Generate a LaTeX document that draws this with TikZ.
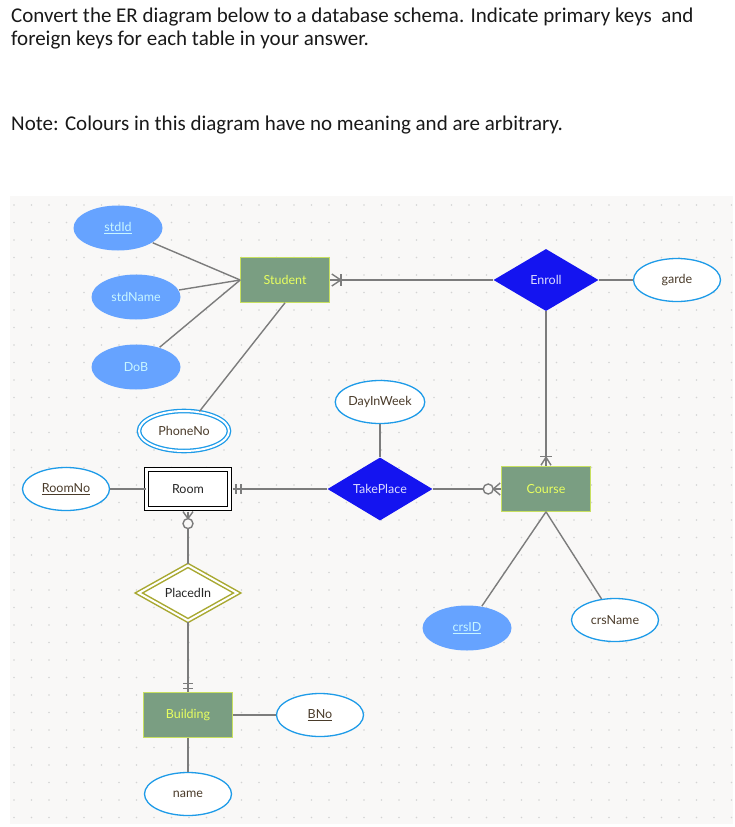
\documentclass[tikz,border=0pt]{standalone}
\usepackage{fontspec}
\setmainfont{Carlito}
\newfontfamily\diagfont{Lato}
\usetikzlibrary{shapes.geometric}

\definecolor{bgpaper}{HTML}{F9F8F7}
\definecolor{griddot}{HTML}{D4D4D4}
\definecolor{attrblue}{HTML}{66A3FF}
\definecolor{attrline}{HTML}{1E9BE8}
\definecolor{attrtext}{HTML}{C8F6FF}
\definecolor{browntext}{HTML}{4A3B2A}
\definecolor{entgreen}{HTML}{7A9E82}
\definecolor{enttext}{HTML}{E8FF60}
\definecolor{entline}{HTML}{C8E060}
\definecolor{relblue}{HTML}{1414F0}
\definecolor{reltext}{HTML}{DCDCFF}
\definecolor{olivegreen}{HTML}{A8A830}
\definecolor{connector}{HTML}{7C7C7C}

\tikzset{
  diagtext/.style={font=\diagfont\fontsize{12.5}{14}\selectfont},
  attr/.style={ellipse, diagtext, draw=attrline, line width=1.3pt, fill=white,
    minimum width=87pt, minimum height=43pt, inner sep=0pt, text=browntext},
  filledattr/.style={attr, draw=none, fill=attrblue, text=attrtext,
    minimum width=89pt, minimum height=45pt},
  entity/.style={rectangle, diagtext, draw=entline, line width=0.6pt, fill=entgreen,
    minimum width=89pt, minimum height=45pt, text=enttext},
  weakentity/.style={rectangle, diagtext, draw=black, line width=1.2pt, double=white,
    double distance=2.5pt, fill=white, minimum width=83pt, minimum height=39pt, text=black!85},
  relation/.style={diamond, diagtext, fill=relblue, minimum width=105pt,
    minimum height=62pt, inner sep=0pt, text=reltext},
  weakrel/.style={diamond, diagtext, draw=olivegreen, line width=1.5pt, double=white,
    double distance=2pt, fill=white, minimum width=99pt, minimum height=55pt,
    inner sep=0pt, text=black!85},
  conn/.style={draw=connector, line width=1.4pt},
  question/.style={anchor=base west, inner sep=0pt, text=black!90,
    font=\fontsize{21}{22}\selectfont},
}

\begin{document}
\begin{tikzpicture}[x=1pt,y=-1pt]
  \useasboundingbox (0,0) rectangle (734,827);
  \fill[white] (0,0) rectangle (734,827);

  % question text
  \node[question] (q1) at (11,23) {Convert the ER diagram below to a database schema. Indicate primary keys\ \ and};
  \node[question] (q2) at (11,45) {foreign keys for each table in your answer.};
  \node[question] (note) at (11,130) {Note: Colours in this diagram have no meaning and are arbitrary.};

  % canvas with dot grid
  \fill[bgpaper] (10,196) rectangle (733,824);
  \foreach \i in {0,...,41} {
      \foreach \j in {0,...,35} {
          \fill[griddot] (14+17.5*\i, 205+17.5*\j) circle (0.9pt);
        }
    }

  % Student and its attributes
  \node[filledattr] (stdid) at (118,228) {\underline{stdId}};
  \node[filledattr] (stdname) at (136,297) {stdName};
  \node[filledattr] (dob) at (136,367) {DoB};
  \node[attr, double=white, double distance=2pt, minimum width=90pt, minimum height=40pt] (phone) at (184,431) {PhoneNo};
  \node[entity] (student) at (285,280) {Student};

  % Enroll
  \node[relation] (enroll) at (546,280) {Enroll};
  \node[attr] (garde) at (677,280) {garde};

  % TakePlace and Course
  \node[attr] (dayinweek) at (380,402) {DayInWeek};
  \node[relation] (takeplace) at (380,489) {TakePlace};
  \node[entity] (course) at (546,489) {Course};
  \node[filledattr] (crsid) at (467,628) {\underline{crsID}};
  \node[attr] (crsname) at (615,620) {crsName};

  % Room, PlacedIn, Building
  \node[attr] (roomno) at (66,489) {\underline{RoomNo}};
  \node[weakentity] (room) at (188,489) {Room};
  \node[weakrel] (placedin) at (188,593) {PlacedIn};
  \node[entity] (building) at (188,715) {Building};
  \node[attr] (bno) at (320,715) {\underline{BNo}};
  \node[attr] (bname) at (188,794) {name};

  % connectors
  \draw[conn] (stdid) -- (student.west);
  \draw[conn] (stdname) -- (student.west);
  \draw[conn] (dob) -- (student.west);
  \draw[conn] (phone) -- (student.south);
  \draw[conn] (student.east) -- (enroll.west);
  \draw[conn] (enroll) -- (garde);
  \draw[conn] (enroll.south) -- (course.north);
  \draw[conn] (dayinweek) -- (takeplace);
  \draw[conn] (takeplace) -- (course);
  \draw[conn] (course.south) -- (crsid);
  \draw[conn] (course.south) -- (crsname);
  \draw[conn] (roomno) -- (room);
  \draw[conn] ([xshift=2.5pt]room.east) -- (takeplace.west);
  \draw[conn] ([yshift=-2.5pt]room.south) -- (placedin.north);
  \draw[conn] (placedin.south) -- (building.north);
  \draw[conn] (building) -- (bno);
  \draw[conn] (building) -- (bname);

  % cardinality marks
  \draw[conn] ([xshift=2pt]student.east) ++(0,-6) -- ++(9,6) -- ++(-9,6);
  \draw[conn] ([xshift=11pt]student.east) ++(0,-6) -- ++(0,12);
  \draw[conn] (course.north) ++(-5,-1) -- ++(5,-8) -- ++(5,8);
  \draw[conn] (course.north) ++(-6,-10) -- ++(12,0);
  \draw[conn] ([xshift=-1pt]course.west) ++(0,-6) -- ++(-7,6) -- ++(7,6);
  \draw[conn, fill=bgpaper] ([xshift=-13pt]course.west) circle (5pt);
  \draw[conn] (room.south) ++(-5,2.5) -- ++(5,7) -- ++(5,-7);
  \draw[conn, fill=bgpaper] (room.south) ++(0,14.5) circle (5pt);
  \draw[conn] (room.east) ++(6,-5) -- ++(0,10);
  \draw[conn] (room.east) ++(11,-5) -- ++(0,10);
  \draw[conn] (building.north) ++(-5,-8.5) -- ++(10,0);
  \draw[conn] (building.north) ++(-5,-3.5) -- ++(10,0);
\end{tikzpicture}
\end{document}
